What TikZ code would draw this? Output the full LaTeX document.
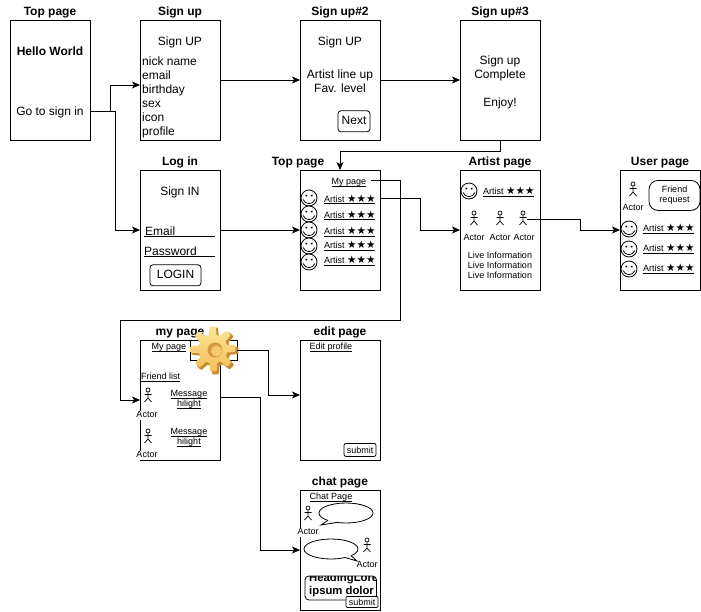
\documentclass[tikz,border=0pt]{standalone}
\usepackage{fontspec}
\setmainfont{Liberation Sans}
\newfontfamily\symf{DejaVu Sans}
\usetikzlibrary{arrows.meta,calc}
\newsavebox\ulbox
\newcommand{\ul}[1]{\sbox\ulbox{#1}\usebox\ulbox\llap{\smash{\rule[-1.9pt]{\wd\ulbox}{.8pt}}}}
\newcommand{\starsrow}{Artist {\symf\fontsize{10.5}{9}\selectfont ★★★}}
\definecolor{gdark}{HTML}{C98A30}
\definecolor{gmid}{HTML}{F3BE58}
\definecolor{glight}{HTML}{FDE596}
\tikzset{
  x=1pt,y=-1pt,
  page/.style={draw=black,line width=1pt,minimum width=80pt,minimum height=120pt,inner sep=0pt,outer sep=0pt},
  ttl/.style={font=\bfseries\fontsize{12}{14}\selectfont,inner sep=0pt,text height=8.5pt,text depth=2.5pt,yshift=-1.3pt},
  txt/.style={font=\fontsize{12}{14}\selectfont,inner sep=0pt,align=center,text height=8.5pt,text depth=2.5pt,yshift=-1.3pt},
  ltxt/.style={font=\fontsize{12}{14}\selectfont,inner sep=0pt,anchor=west,text height=8.5pt,text depth=2.5pt,yshift=-1.3pt},
  small/.style={font=\fontsize{9}{10}\selectfont,inner sep=0pt,align=center,yshift=-.4pt},
  btn/.style={draw=black,line width=.8pt,rounded corners=3pt,inner sep=0pt,align=center},
  conn/.style={draw=black,line width=1pt,-{Stealth[length=8pt,width=7pt,inset=2pt]}},
  art/.style={small,font=\fontsize{9}{10}\selectfont,anchor=west,text height=6.5pt,text depth=2pt,yshift=-1pt},
  alab/.style={small,fill=white,text height=6.5pt,text depth=2pt},
  pics/smile/.style={code={
    \draw[line width=.8pt,fill=white] (0,0) circle[radius=8pt];
    \fill (-2.8,-2.4) circle[radius=1pt] (2.8,-2.4) circle[radius=1pt];
    \draw[line width=.8pt] (-6,1.5) .. controls (-3.5,7) and (3.5,7) .. (6,1.5);
  }},
  pics/actor/.style={code={
    \draw[line width=.7pt] (0,-6) circle[radius=2pt] (0,-4) -- (0,2) (-3.5,-1.5) -- (3.5,-1.5) (-3.5,6) -- (0,2) -- (3.5,6);
  }},
}
\begin{document}
\begin{tikzpicture}
\useasboundingbox (0,0) rectangle (701,611);
\fill[white] (0,0) rectangle (701,611);
% pages
\node[page] (top) at (50,80) {};
\node[page] (su) at (180,80) {};
\node[page] (su2) at (340,80) {};
\node[page] (su3) at (500,80) {};
\node[page] (li) at (180,230) {};
\node[page] (tp) at (340,230) {};
\node[page] (ap) at (500,230) {};
\node[page] (up) at (660,230) {};
\node[page] (mp) at (180,400) {};
\node[page] (ep) at (340,400) {};
\node[page] (cp) at (340,550) {};
% titles
\node[ttl] at (50,11) {Top page};
\node[ttl] at (180,11) {Sign up};
\node[ttl] at (340,11) {Sign up\#2};
\node[ttl] at (500,11) {Sign up\#3};
\node[ttl] at (180,161) {Log in};
\node[ttl] at (298,161) {Top page};
\node[ttl] at (500,161) {Artist page};
\node[ttl] at (660,161) {User page};
\node[ttl] at (180,331) {my page};
\node[ttl] at (340,331) {edit page};
\node[ttl] at (340,481) {chat page};
% top page
\node[txt,font=\bfseries\fontsize{12}{14}\selectfont] at (50,51) {Hello World};
\node[txt,minimum width=80pt,outer sep=0pt,yshift=1.3pt,text height=10pt,text depth=2pt] (go) at (50,111.3) {Go to sign in};
% sign up
\node[txt] at (180,41) {Sign UP};
\foreach \t/\y in {nick name/61,email/75,birthday/89,sex/103,icon/117,profile/131}
  \node[ltxt] at (142,\y) {\t};
% sign up 2
\node[txt] at (340,41) {Sign UP};
\node[txt] at (340,74) {Artist line up};
\node[txt] at (340,88) {Fav. level};
\node[btn,txt,draw=black,minimum width=32pt,minimum height=21pt,rounded corners=3pt,yshift=.5pt,text height=9.5pt,text depth=2.5pt] (next) at (354,120.5) {Next};
% sign up 3
\node[txt] at (500,60) {Sign up};
\node[txt] at (500,74) {Complete};
\node[txt] at (500,102) {Enjoy!};
% log in
\node[txt] at (180,191) {Sign IN};
\node[ltxt] at (145,231) {Email};
\node[ltxt] at (144,251) {Password};
\draw[line width=.8pt] (144,236.5) -- (215,236.5) (144,256.5) -- (215,256.5);
\node[btn,txt,draw=black,minimum width=51pt,minimum height=21pt,rounded corners=3pt,yshift=.5pt,text height=9.5pt,text depth=2.5pt] at (175.5,274.5) {LOGIN};
% top page 2
\node[art,anchor=center] (mylink) at (349,181) {\ul{My page}};
\foreach \y in {198,214,230,246,262} \pic at (309,\y) {smile};
\node[art] (r1) at (324,198.5) {\ul{\starsrow}};
\node[art] at (324,214.5) {\ul{\starsrow}};
\node[art] at (324,231) {\ul{\starsrow}};
\node[art] at (324,245) {\ul{\starsrow}};
\node[art] at (324,260) {\ul{\starsrow}};
% artist page
\pic at (469,191) {smile};
\node[art] at (483,191) {\ul{\starsrow}};
\pic at (474,219) {actor};
\pic at (500,219) {actor};
\pic at (523,219) {actor};
\coordinate (a3) at (527,219);
\node[art,anchor=center] at (474,237) {Actor};
\node[art,anchor=center] at (500,237) {Actor};
\node[art,anchor=center] at (524,237) {Actor};
\node[small] at (500,265) {Live Information\\Live Information\\Live Information};
% user page
\pic at (633,190) {actor};
\node[art,anchor=center] at (633,207) {Actor};
\node[btn,small,draw=black,minimum width=51pt,minimum height=30pt,rounded corners=9pt] at (674.5,195) {Friend\\request};
\foreach \y in {229,249,269} \pic at (629,\y) {smile};
\node[art] at (643,228) {\ul{\starsrow}};
\node[art] at (643,248) {\ul{\starsrow}};
\node[art] at (643,268) {\ul{\starsrow}};
% my page
\node[art,anchor=center] at (169,346) {\ul{My page}};
\node[art] at (141,376) {\ul{Friend list}};
\pic at (148,396) {actor};
\node[alab] at (147,415) {Actor};
\node[small] at (189,399) {\ul{Message}\\\ul{hilight}};
\pic at (148,437) {actor};
\node[alab] at (147,455) {Actor};
\node[small] at (189,437) {\ul{Message}\\\ul{hilight}};
% gear
\node[draw=black,line width=1pt,minimum width=47pt,minimum height=20pt,inner sep=0pt,outer sep=0pt] (gear) at (213.5,350) {};
\begin{scope}[shift={(215,351)}]
  \fill[gdark] plot[samples=145,domain=0:360] ({(19.5+4*min(1,max(-1,2.2*cos(8*\x+10))))*cos(\x)},{(19.5+4*min(1,max(-1,2.2*cos(8*\x+10))))*sin(\x)});
\end{scope}
\begin{scope}[shift={(213,349)}]
  \shade[top color=glight,bottom color=gmid] plot[samples=145,domain=0:360] ({(18.5+4*min(1,max(-1,2.2*cos(8*\x+10))))*cos(\x)},{(18.5+4*min(1,max(-1,2.2*cos(8*\x+10))))*sin(\x)});
  \fill[gdark!70!gmid] (2,1) circle[radius=7.5pt];
  \fill[gmid!70!glight] (3.5,2) circle[radius=5.5pt];
\end{scope}
% edit page
\node[art,anchor=center] at (331,346) {\ul{Edit profile}};
\node[btn,small,draw=black,minimum width=32pt,minimum height=13pt,rounded corners=2pt] at (360,449.5) {submit};
% chat page
\node[art,anchor=center] at (331,496) {\ul{Chat Page}};
\pic at (308,514) {actor};
\node[alab] at (308,532) {Actor};
\draw[line width=.8pt] (346,513) ellipse[x radius=27pt,y radius=10pt];
\draw[white,line width=1.6pt] (328,520.3) -- (337,522.4);
\draw[line width=.8pt] (328,520.3) -- (321,525) -- (337,522.4);
\draw[line width=.8pt] (331,549) ellipse[x radius=27pt,y radius=10pt];
\draw[white,line width=1.6pt] (345,557.5) -- (351,555.7);
\draw[line width=.8pt] (345,557.5) -- (357,561) -- (351,555.7);
\pic at (367,546) {actor};
\node[art,anchor=center] at (367,564) {Actor};
\begin{scope}
  \clip[rounded corners=4pt] (305,576) rectangle (376.5,600);
  \node[anchor=west,inner sep=0pt,align=left,font=\bfseries\fontsize{11.3}{13}\selectfont] at (309,585.5) {HeadingLorem\\ipsum dolor};
\end{scope}
\draw[line width=.8pt,rounded corners=4pt] (305,576) rectangle (376.5,600);
\node[small,draw=black,line width=.8pt,fill=white,rounded corners=1pt,minimum width=32pt,minimum height=11pt] at (362,601.5) {submit};
% connectors
\coordinate (suin) at (140,85);
\coordinate (r1e) at (380,198);
\coordinate (mye) at (371,180.5);
\coordinate (epin) at (300,395);
\coordinate (mpo) at (220,397.5);
\draw[conn] (go.east) -- (110,111.3) -- (110,85) -- (suin);
\draw[conn] (go.east) -- (115,111.3) -- (115,230) -- (li.west);
\draw[conn] (su.east) -- (su2.west);
\draw[conn] (su2.east) -- (su3.west);
\draw[conn] (su3.south) -- (500,151) -- (340,151) -- (tp.north);
\draw[conn] (li.east) -- (tp.west);
\draw[conn] (r1e) -- (420,198) -- (420,230) -- (ap.west);
\draw[conn] (mye) -- (400,180.5) -- (400,320.5) -- (120,320.5) -- (120,400) -- (mp.west);
\draw[conn] (a3) -- (580,219) -- (580,230) -- (up.west);
\draw[conn] (gear.east) -- (268,350) -- (268,395) -- (epin);
\draw[conn] (mpo) -- (260.5,397.5) -- (260.5,550) -- (cp.west);
\end{tikzpicture}
\end{document}
